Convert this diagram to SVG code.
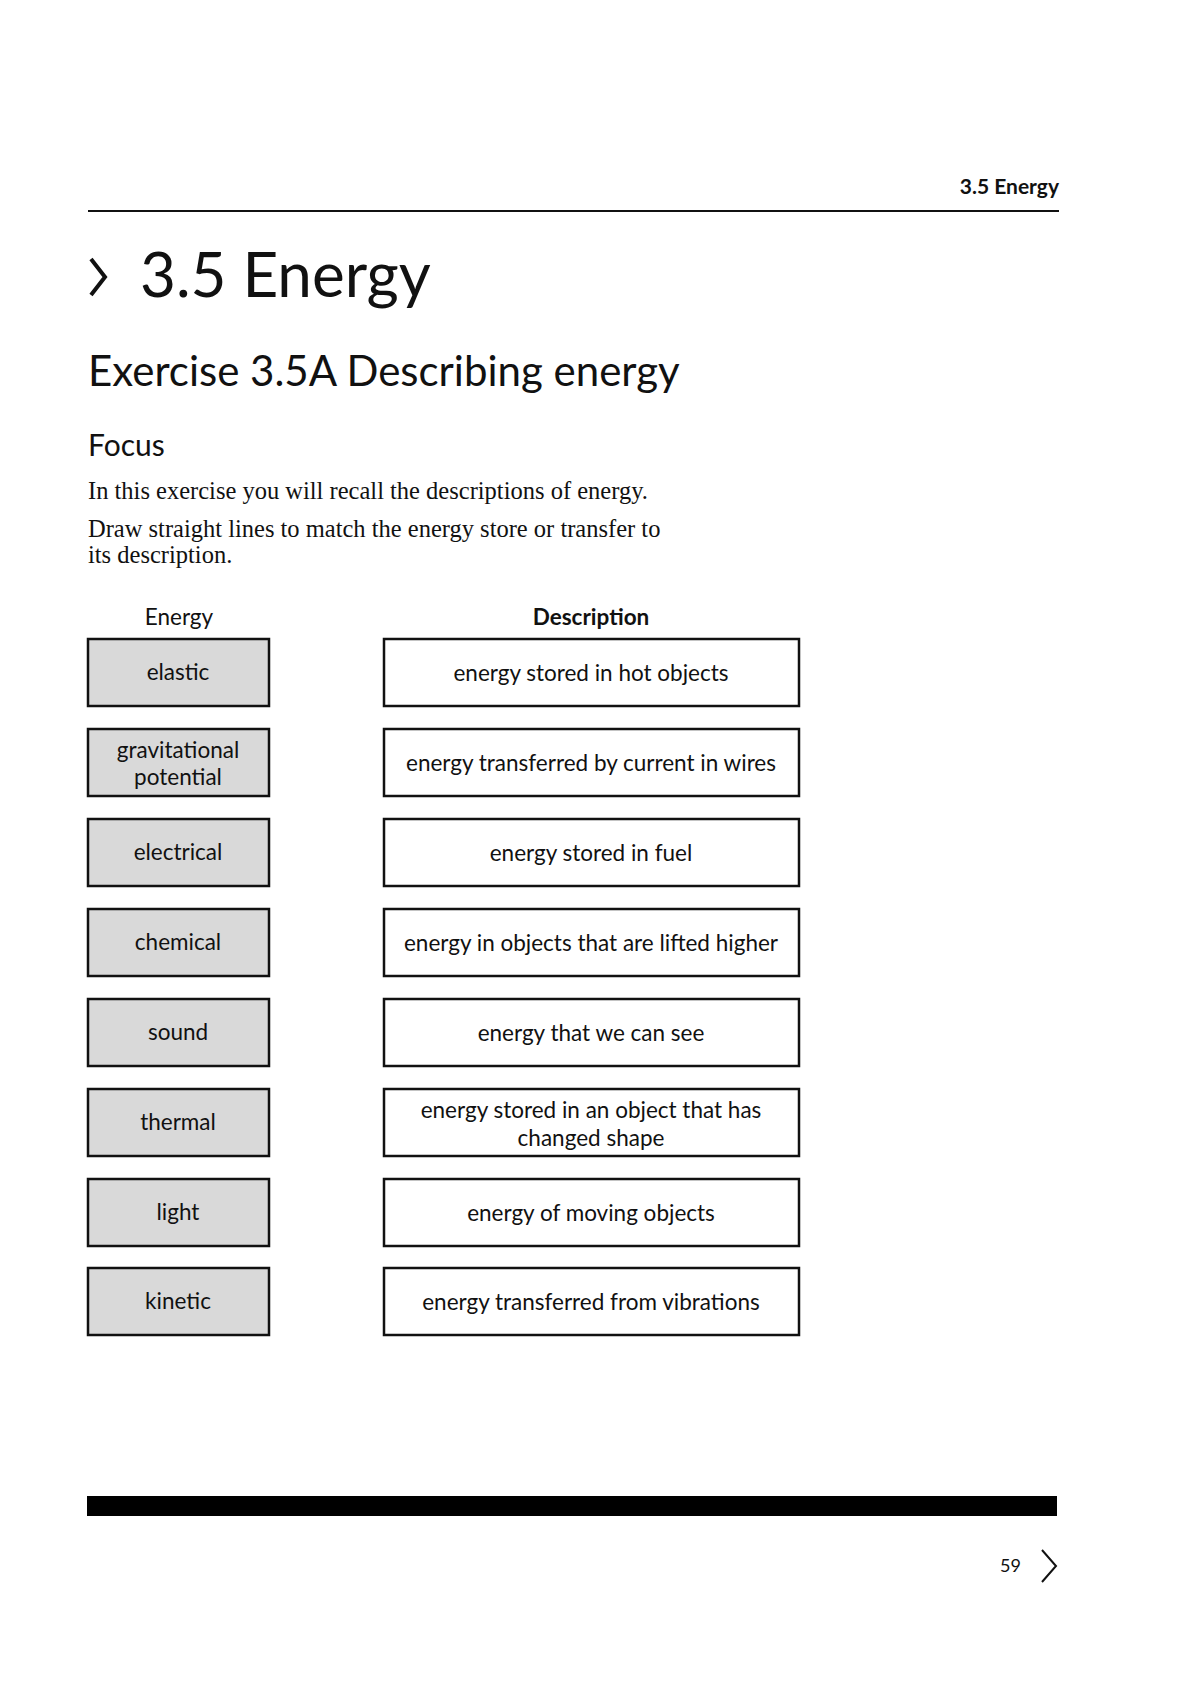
<svg xmlns="http://www.w3.org/2000/svg" width="1200" height="1696" viewBox="0 0 1200 1696">
<style>
.s{font-family:Lato,"Open Sans",sans-serif;fill:#111}
.b{font-family:"Liberation Serif",serif;font-size:24.5px;fill:#111}
.l rect{fill:#d9d9d9;stroke:#111;stroke-width:2.5}
.r rect{fill:#fff;stroke:#111;stroke-width:2.5}
.t{font-family:Lato,"Open Sans",sans-serif;font-size:22.5px;fill:#111;text-anchor:middle}
</style>
<rect width="1200" height="1696" fill="#fff"/>
<text class="s" x="1059" y="194" font-size="21" font-weight="bold" text-anchor="end">3.5  Energy</text>
<line x1="88" y1="211" x2="1059" y2="211" stroke="#111" stroke-width="2"/>
<path d="M91 259 L105 277 L91 295" fill="none" stroke="#111" stroke-width="4"/>
<text class="s" x="140" y="297" font-size="62">3.5  Energy</text>
<text class="s" x="88" y="386" font-size="42">Exercise 3.5A Describing energy</text>
<text class="s" x="88" y="456" font-size="30">Focus</text>
<text class="b" x="88" y="499">In this exercise you will recall the descriptions of energy.</text>
<text class="b" x="88" y="537">Draw straight lines to match the energy store or transfer to</text>
<text class="b" x="88" y="563">its description.</text>
<text class="t" x="179" y="625">Energy</text>
<text class="t" x="591" y="625" font-weight="bold">Description</text>
<g class="l">
<g id="n-elastic"><rect x="88" y="639" width="181" height="67"/><text class="t" x="178" y="680">elastic</text></g>
<g id="n-grav"><rect x="88" y="729" width="181" height="67"/><text class="t" x="178" y="758">gravitational</text><text class="t" x="178" y="785">potential</text></g>
<g id="n-electrical"><rect x="88" y="819" width="181" height="67"/><text class="t" x="178" y="860">electrical</text></g>
<g id="n-chemical"><rect x="88" y="909" width="181" height="67"/><text class="t" x="178" y="950">chemical</text></g>
<g id="n-sound"><rect x="88" y="999" width="181" height="67"/><text class="t" x="178" y="1040">sound</text></g>
<g id="n-thermal"><rect x="88" y="1089" width="181" height="67"/><text class="t" x="178" y="1130">thermal</text></g>
<g id="n-light"><rect x="88" y="1179" width="181" height="67"/><text class="t" x="178" y="1220">light</text></g>
<g id="n-kinetic"><rect x="88" y="1268" width="181" height="67"/><text class="t" x="178" y="1309">kinetic</text></g>
</g>
<g class="r">
<g id="d1"><rect x="384" y="639" width="415" height="67"/><text class="t" x="591" y="681">energy stored in hot objects</text></g>
<g id="d2"><rect x="384" y="729" width="415" height="67"/><text class="t" x="591" y="771">energy transferred by current in wires</text></g>
<g id="d3"><rect x="384" y="819" width="415" height="67"/><text class="t" x="591" y="861">energy stored in fuel</text></g>
<g id="d4"><rect x="384" y="909" width="415" height="67"/><text class="t" x="591" y="951">energy in objects that are lifted higher</text></g>
<g id="d5"><rect x="384" y="999" width="415" height="67"/><text class="t" x="591" y="1041">energy that we can see</text></g>
<g id="d6"><rect x="384" y="1089" width="415" height="67"/><text class="t" x="591" y="1118">energy stored in an object that has</text><text class="t" x="591" y="1146">changed shape</text></g>
<g id="d7"><rect x="384" y="1179" width="415" height="67"/><text class="t" x="591" y="1221">energy of moving objects</text></g>
<g id="d8"><rect x="384" y="1268" width="415" height="67"/><text class="t" x="591" y="1310">energy transferred from vibrations</text></g>
</g>
<g id="connectors"/>
<rect x="87" y="1496" width="970" height="20" fill="#000"/>
<text class="s" x="1021" y="1572" font-size="18" text-anchor="end">59</text>
<path d="M1042 1550 L1056 1566 L1042 1582" fill="none" stroke="#111" stroke-width="2"/>
</svg>
